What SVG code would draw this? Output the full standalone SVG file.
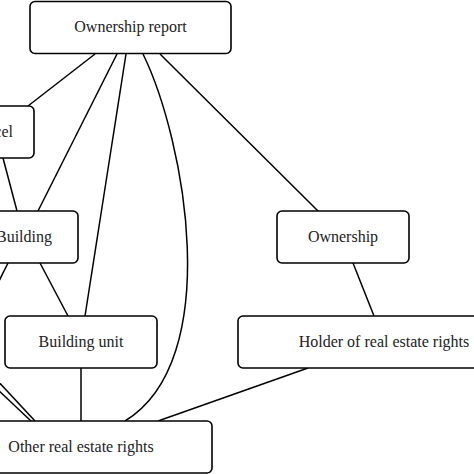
<svg xmlns="http://www.w3.org/2000/svg" width="474" height="474" viewBox="0 0 474 474">
<style>
.box{fill:#fff;stroke:#000;stroke-width:1.6}
.lbl{font-family:"Liberation Serif","DejaVu Serif",serif;font-size:16px;fill:#222;text-anchor:middle}
.edge{fill:none;stroke:#000;stroke-width:1.5}
</style>
<rect width="474" height="474" fill="#fff"/>
<g id="connectors">
<line class="edge" x1="95" y1="54" x2="28" y2="106"/>
<line class="edge" x1="117" y1="54" x2="38" y2="211"/>
<line class="edge" x1="126" y1="54" x2="85" y2="316"/>
<path class="edge" d="M143,54 C185,140 225,360 125,421"/>
<line class="edge" x1="160" y1="54" x2="318" y2="211"/>
<line class="edge" x1="3" y1="158" x2="17" y2="211"/>
<line class="edge" x1="40" y1="263" x2="68" y2="316"/>
<line class="edge" x1="8" y1="263" x2="-12" y2="303"/>
<line class="edge" x1="-20" y1="362" x2="35" y2="421"/>
<line class="edge" x1="-20" y1="373" x2="31" y2="421"/>
<line class="edge" x1="81" y1="368" x2="81" y2="421"/>
<line class="edge" x1="308" y1="368" x2="158" y2="421"/>
<line class="edge" x1="353" y1="263" x2="374" y2="316"/>
</g>
<g id="node-ownership-report">
<rect class="box" x="30" y="1.5" width="201" height="52" rx="5"/>
<text class="lbl" x="130.5" y="32">Ownership report</text>
</g>
<g id="node-parcel">
<rect class="box" x="-48" y="106" width="82" height="52" rx="5"/>
<text class="lbl" x="-7" y="137">Parcel</text>
</g>
<g id="node-building">
<rect class="box" x="-30" y="211" width="108" height="52" rx="5"/>
<text class="lbl" x="24" y="242">Building</text>
</g>
<g id="node-ownership">
<rect class="box" x="277" y="211" width="132" height="52" rx="5"/>
<text class="lbl" x="343" y="242">Ownership</text>
</g>
<g id="node-building-unit">
<rect class="box" x="5" y="316" width="152" height="52" rx="5"/>
<text class="lbl" x="81" y="347">Building unit</text>
</g>
<g id="node-holder">
<rect class="box" x="238" y="316" width="292" height="52" rx="5"/>
<text class="lbl" x="384" y="347">Holder of real estate rights</text>
</g>
<g id="node-other-rights">
<rect class="box" x="-50" y="421" width="262" height="52" rx="5"/>
<text class="lbl" x="81" y="452">Other real estate rights</text>
</g>
</svg>
